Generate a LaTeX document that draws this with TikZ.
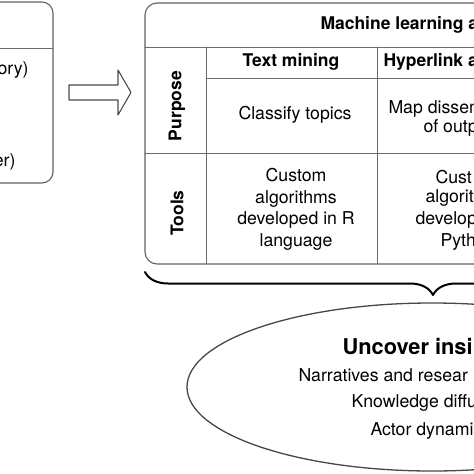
\documentclass[tikz,border=0pt]{standalone}
\usepackage{fontspec}
\setmainfont{TeX Gyre Heros}
\usetikzlibrary{decorations.pathreplacing}

\begin{document}
\begin{tikzpicture}[x=1pt,y=-1pt,line width=1pt,
  line cap=round,line join=round,font=\fontsize{17.7}{21.5}\selectfont,
  frame/.style={draw=black!62,line width=1.1pt},
  rule/.style={draw=black!58,line width=.9pt},
  head/.style={font=\fontsize{17.5}{21}\selectfont\bfseries,inner sep=0pt},
  txt/.style={align=center,inner sep=0pt}]
  \useasboundingbox (0,0) rectangle (474,474);
  \clip (0,0) rectangle (474,474);
  % left: source box, cut by the frame.
  \draw[frame,rounded corners=11pt] (-140,2) rectangle (53,183);
  \draw[rule] (-140,48)--(53,48);
  \node[txt,anchor=east] (srcA) at (29,70) {ory)};
  \node[txt,anchor=east] (srcB) at (16,162) {er)};
  % hollow arrow between the boxes.
  \draw[frame,draw=black!70] (69,85)--(118,85)--(118,70)--(131,92.5)
    --(118,115)--(118,100)--(69,100)--cycle;
  % right: method table, cut by the frame.
  \draw[frame,rounded corners=12pt] (145,3) rectangle (660,264);
  \draw[rule] (145,47)--(660,47);
  \draw[rule] (206,78)--(660,78);
  \draw[rule] (145,153)--(660,153);
  \foreach \x in {206,377}{\draw[rule] (\x,47)--(\x,264);}
  \node[head,anchor=west] (mlTitle) at (320,25) {Machine learning a};
  \node[head] (colText) at (291,62) {Text mining};
  \node[head,anchor=west] (colLink) at (383,62) {Hyperlink a};
  \node[head,rotate=90] (rowPurpose) at (177,106) {Purpose};
  \node[head,rotate=90] (rowTools) at (177,213) {Tools};
  \node[txt] (textPurpose) at (295,115) {Classify topics};
  \node[txt,anchor=west] (linkPurposeA) at (388,109) {Map dissem};
  \node[txt,anchor=west] (linkPurposeB) at (423,128) {of outp};
  \node[txt] (textTools) at (296,209.5)
    {Custom\\algorithms\\developed in R\\language};
  \foreach \s/\x/\y in {Cust/435/177,algorit/425/198,develop/415/220,Pyth/440/242}{
    \node[txt,anchor=west] (linkTools\s) at (\x,\y) {\s};
  }
  % brace under the table, pointing to the outcome.
  \draw[line width=2pt,decorate,decoration={brace,amplitude=23pt}]
    (721,272)--(145,272);
  % outcome ellipse.
  \draw[frame,draw=black!72,line width=1.3pt] (432,387) ellipse[x radius=245,y radius=84];
  \node[anchor=west,inner sep=0pt,font=\fontsize{21.8}{26}\selectfont\bfseries]
    (outTitle) at (342,347) {Uncover insi};
  \node[txt,anchor=west] (outA) at (298,375) {Narratives and resear};
  \node[txt,anchor=west] (outB) at (351,403) {Knowledge diffu};
  \node[txt,anchor=west] (outC) at (370,431) {Actor dynami};
\end{tikzpicture}
\end{document}
